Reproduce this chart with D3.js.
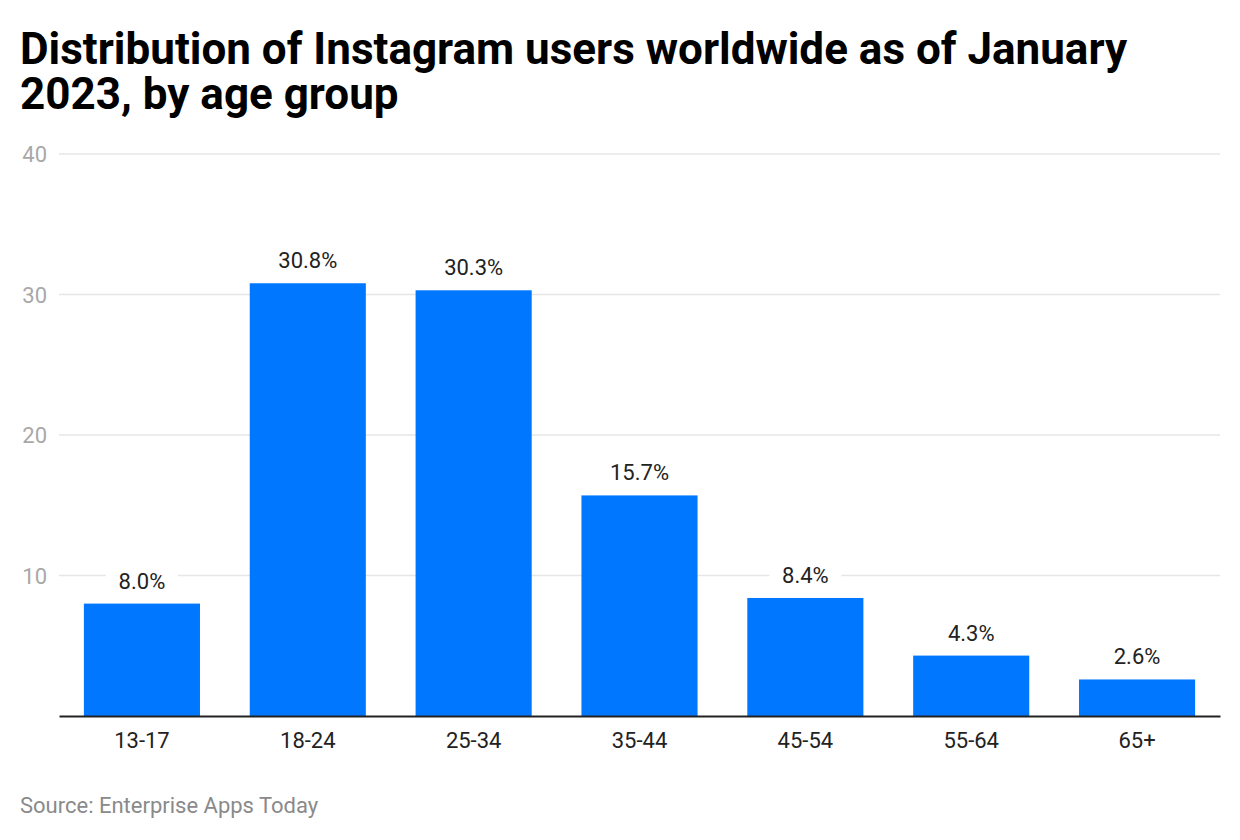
<!DOCTYPE html>
<html>
<head>
<meta charset="utf-8">
<script src="https://cdn.jsdelivr.net/npm/d3@7"></script>
<style>
  body{margin:0;background:#fff;}
  svg{display:block;font-family:Roboto,"Noto Sans",sans-serif;}
</style>
</head>
<body>
<div id="chart"></div>
<script>
// instagram users by age group, Jan 2023
const ageGroups=["13-17","18-24","25-34","35-44","45-54","55-64","65+"];
const shares=[8.0,30.8,30.3,15.7,8.4,4.3,2.6];
const yTicks=[10,20,30,40];

const W=1240,H=840;
const margin={top:154,right:20,bottom:124,left:59};
const innerW=W-margin.left-margin.right;
const innerH=H-margin.top-margin.bottom;

const svg=d3.select("#chart").append("svg")
  .attr("width",W).attr("height",H);

// title, two lines
const title=svg.append("text").attr("x",20).attr("y",64)
  .attr("fill","#000").style("font-size","44px").style("font-weight","700");
title.append("tspan").attr("x",20).attr("dy",0).text("Distribution of Instagram users worldwide as of January");
title.append("tspan").attr("x",20).attr("dy",45).text("2023, by age group");

const g=svg.append("g").attr("transform",`translate(${margin.left},${margin.top})`);

const x=d3.scaleBand().domain(ageGroups).range([0,innerW]).paddingInner(0.3).paddingOuter(0.15);
const y=d3.scaleLinear().domain([0,40]).range([innerH,0]);

// gridlines
g.append("g").selectAll("line").data(yTicks).join("line")
  .attr("x1",0).attr("x2",innerW)
  .attr("y1",d=>y(d)).attr("y2",d=>y(d))
  .attr("stroke","#e6e6e6").attr("stroke-width",1.5);

// y tick labels
g.append("g").selectAll("text").data(yTicks).join("text")
  .attr("x",-12).attr("y",d=>y(d)+8)
  .attr("text-anchor","end").attr("fill","#a8a8a8")
  .style("font-size","22px")
  .text(d=>d);

// bars
g.append("g").selectAll("rect").data(ageGroups).join("rect")
  .attr("x",d=>x(d)).attr("width",x.bandwidth())
  .attr("y",(d,i)=>y(shares[i])).attr("height",(d,i)=>innerH-y(shares[i]))
  .attr("fill","#0077ff");

// value labels with white backing so gridlines break behind them
const lbl=g.append("g").selectAll("g").data(ageGroups).join("g")
  .attr("transform",(d,i)=>`translate(${x(d)+x.bandwidth()/2},${y(shares[i])-15})`);
lbl.append("rect")
  .attr("x",-36).attr("y",-20).attr("width",72).attr("height",26)
  .attr("fill","#fff");
lbl.append("text").attr("text-anchor","middle").attr("fill","#222")
  .style("font-size","22px")
  .text((d,i)=>shares[i].toFixed(1)+"%");

// x axis
const xAxis=g.append("g").attr("transform",`translate(0,${innerH})`)
  .call(d3.axisBottom(x).tickSize(0).tickPadding(16));
xAxis.select(".domain").attr("stroke","#222").attr("stroke-width",2);
xAxis.selectAll("text").attr("fill","#222")
  .style("font-family","Roboto,'Noto Sans',sans-serif").style("font-size","22px");

// source
svg.append("text").attr("x",20).attr("y",813)
  .attr("fill","#8a8a8a").style("font-size","22px")
  .text("Source: Enterprise Apps Today");
</script>
</body>
</html>
